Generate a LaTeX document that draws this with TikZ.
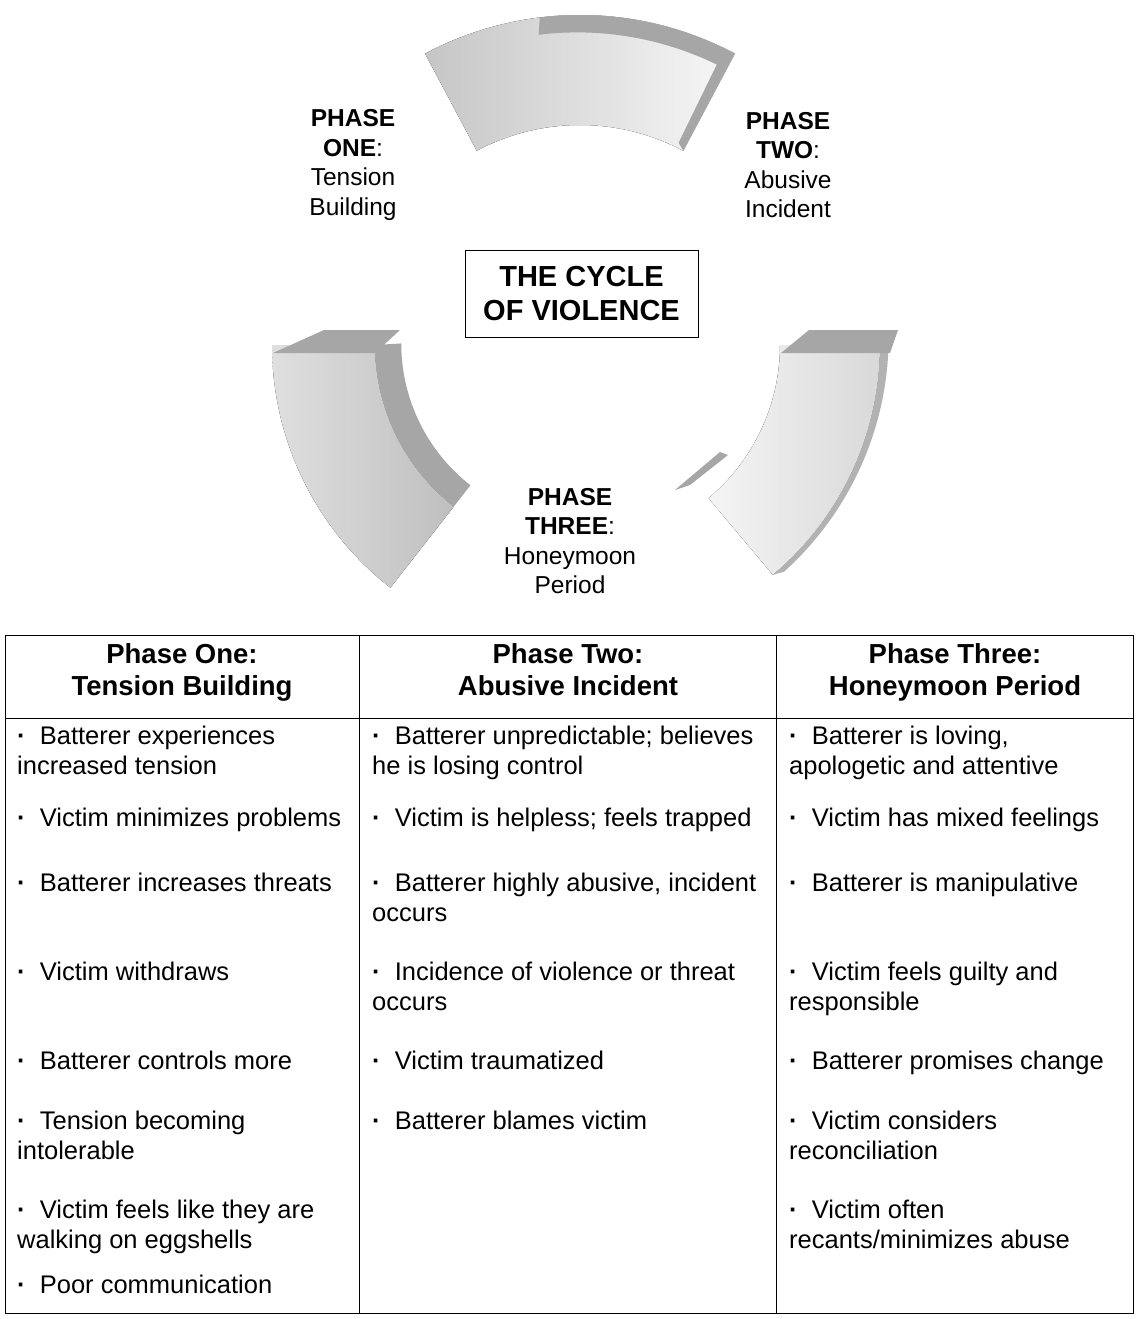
\documentclass[tikz,border=0pt]{standalone}
\usepackage{fontspec}
\setmainfont{Liberation Sans}
\newcommand{\bul}{\textbf{\textperiodcentered}\ \ }
\begin{document}
\begin{tikzpicture}[x=1pt,y=-1pt,
  body/.style={inner sep=0pt,align=left,font=\fontsize{25.5}{30}\selectfont,anchor=north west},
  head/.style={inner sep=0pt,align=center,font=\fontsize{27.5}{32}\selectfont\bfseries,anchor=north},
  lab/.style={inner sep=0pt,align=center,font=\fontsize{24.5}{29.5}\selectfont},
  dark/.style={fill=gray!70,draw=none},
  face/.style={draw=none,left color=gray!45,right color=gray!6}]
\useasboundingbox (0,0) rectangle (1137,1319);
\fill[white] (0,0) rectangle (1137,1319);
\begin{scope}[shift={(580,345)}]
% top arc
\fill[face] (-118:330) arc[start angle=-118,end angle=-62,radius=330] -- (-62:220)
   arc[start angle=-62,end angle=-118,radius=220] -- cycle;
\fill[dark] (-97:330) arc[start angle=-97,end angle=-62,radius=330] -- (-62:220)
   -- (-64:225) -- (-64:312) arc[start angle=-64,end angle=-97,radius=318] -- cycle;
% left arc
\fill[face,left color=gray!25,right color=gray!50] (-180:308) arc[start angle=-180,end angle=-232,radius=308] -- (-232:205)
   arc[start angle=-232,end angle=-180,radius=205] -- cycle;
\fill[dark] (-180:205) arc[start angle=-180,end angle=-232,radius=205] -- (-232:178)
   arc[start angle=-232,end angle=-180,radius=180] -- cycle;
% right arc
\fill[face,left color=gray!8,right color=gray!30] (0:300) arc[start angle=0,end angle=50,radius=300] -- (50:200)
   arc[start angle=50,end angle=0,radius=200] -- cycle;
\fill[gray!60] (0:300) arc[start angle=0,end angle=50,radius=300] -- (48:305)
   arc[start angle=48,end angle=0,radius=316] -- cycle;
\end{scope}
\fill[dark] (273,353) -- (324,330) -- (400,330) -- (375,353) -- cycle;
\fill[dark] (781,353) -- (809,330) -- (898,330) -- (890,353) -- cycle;
\fill[dark] (675,490) -- (720,452) -- (728,455) -- (690,485) -- cycle;
% circle labels
\node[lab] (p1) at (353,165) {\textbf{PHASE}\\\textbf{ONE}:\\Tension\\Building};
\node[lab] (p2) at (788,165) {\textbf{PHASE}\\\textbf{TWO}:\\Abusive\\Incident};
\node[lab] (p3) at (570,541) {\textbf{PHASE}\\\textbf{THREE}:\\Honeymoon\\Period};
\node[draw,thick,minimum width=233pt,minimum height=87pt,inner sep=0pt,align=center,
  font=\fontsize{29}{34}\selectfont\bfseries] (title) at (581.5,293.5) {THE CYCLE\\OF VIOLENCE};
% table
\draw[thick] (5,635) rectangle (1133,1313);
\draw (5,718) -- (1133,718);
\draw (359,635) -- (359,1313);
\draw (776,635) -- (776,1313);
\node[head] (h1) at (182,643) {Phase One:\\Tension Building};
\node[head] (h2) at (568,643) {Phase Two:\\Abusive Incident};
\node[head] (h3) at (955,643) {Phase Three:\\Honeymoon Period};
% column 1
\node[body] (a1) at (17,726) {\bul Batterer experiences\\increased tension};
\node[body] (a2) at (17,808) {\bul Victim minimizes problems};
\node[body] (a3) at (17,873) {\bul Batterer increases threats};
\node[body] (a4) at (17,962) {\bul Victim withdraws};
\node[body] (a5) at (17,1051) {\bul Batterer controls more};
\node[body] (a6) at (17,1111) {\bul Tension becoming\\intolerable};
\node[body] (a7) at (17,1200) {\bul Victim feels like they are\\walking on eggshells};
\node[body] (a8) at (17,1275) {\bul Poor communication};
% column 2
\node[body] (b1) at (372,726) {\bul Batterer unpredictable; believes\\he is losing control};
\node[body] (b2) at (372,808) {\bul Victim is helpless; feels trapped};
\node[body] (b3) at (372,873) {\bul Batterer highly abusive, incident\\occurs};
\node[body] (b4) at (372,962) {\bul Incidence of violence or threat\\occurs};
\node[body] (b5) at (372,1051) {\bul Victim traumatized};
\node[body] (b6) at (372,1111) {\bul Batterer blames victim};
% column 3
\node[body] (c1) at (789,726) {\bul Batterer is loving,\\apologetic and attentive};
\node[body] (c2) at (789,808) {\bul Victim has mixed feelings};
\node[body] (c3) at (789,873) {\bul Batterer is manipulative};
\node[body] (c4) at (789,962) {\bul Victim feels guilty and\\responsible};
\node[body] (c5) at (789,1051) {\bul Batterer promises change};
\node[body] (c6) at (789,1111) {\bul Victim considers\\reconciliation};
\node[body] (c7) at (789,1200) {\bul Victim often\\recants/minimizes abuse};
\end{tikzpicture}
\end{document}
